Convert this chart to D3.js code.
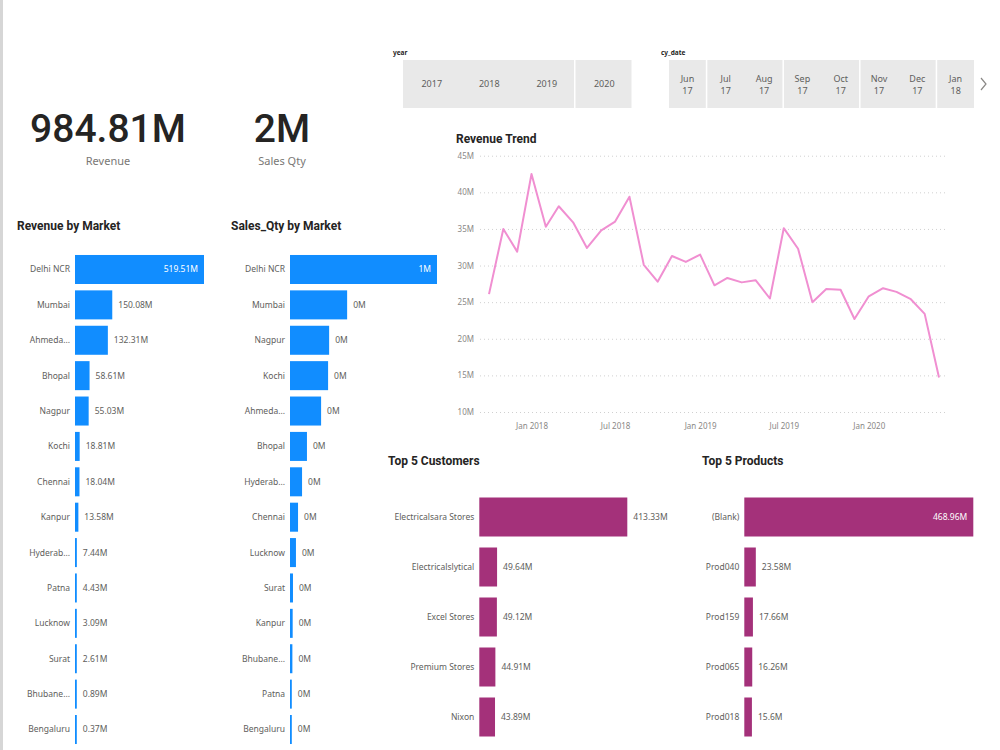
<!DOCTYPE html>
<html>
<head>
<meta charset="utf-8">
<script src="https://cdn.jsdelivr.net/npm/d3@7/dist/d3.min.js"></script>
<style>
  body { margin: 0; background: #fff; }
  text { font-family: "Noto Sans", "Open Sans", sans-serif; }
  .title { font-family: Roboto, sans-serif; font-weight: 700; font-size: 12px; fill: #252423; }
  .cat { font-size: 8.5px; fill: #605E5C; }
  .val { font-size: 8.5px; fill: #605E5C; }
  .tick text { font-size: 8px; fill: #8a8886; }
</style>
</head>
<body>
<svg id="dash" width="1000" height="750"></svg>
<script>
// ---- data ----
// market names as the visual shows them (long ones are cut by Power BI)
const markets = ["Delhi NCR", "Mumbai", "Ahmeda...", "Bhopal", "Nagpur", "Kochi", "Chennai", "Kanpur", "Hyderab...", "Patna", "Lucknow", "Surat", "Bhubane...", "Bengaluru"];
const marketRevenue = [519.51, 150.08, 132.31, 58.61, 55.03, 18.81, 18.04, 13.58, 7.44, 4.43, 3.09, 2.61, 0.89, 0.37]; // M

const qtyMarkets = ["Delhi NCR", "Mumbai", "Nagpur", "Kochi", "Ahmeda...", "Bhopal", "Hyderab...", "Chennai", "Lucknow", "Surat", "Kanpur", "Bhubane...", "Patna", "Bengaluru"];
const marketQty = [0.988, 0.384, 0.263, 0.256, 0.209, 0.114, 0.081, 0.054, 0.040, 0.020, 0.018, 0.016, 0.012, 0.008]; // M

const customers = ["Electricalsara Stores", "Electricalslytical", "Excel Stores", "Premium Stores", "Nixon"];
const customerRevenue = [413.33, 49.64, 49.12, 44.91, 43.89];

const products = ["(Blank)", "Prod040", "Prod159", "Prod065", "Prod018"];
const productRevenue = [468.96, 23.58, 17.66, 16.26, 15.6];

// monthly revenue Oct 2017 .. Jun 2020 (M)
const trendRevenue = [26.1, 35.0, 31.9, 42.5, 35.3, 38.1, 35.9, 32.4, 34.8, 36.0, 39.4, 30.1,
  27.8, 31.3, 30.5, 31.5, 27.3, 28.3, 27.7, 28.0, 25.5, 35.1, 32.3, 25.0,
  26.8, 26.7, 22.7, 25.8, 26.9, 26.4, 25.4, 23.4, 14.7];
const trendMonths = d3.timeMonth.range(new Date(2017, 9, 1), new Date(2020, 6, 1));
const trendTicks = [new Date(2018, 0, 1), new Date(2018, 6, 1), new Date(2019, 0, 1), new Date(2019, 6, 1), new Date(2020, 0, 1)];
const yTicks = [10, 15, 20, 25, 30, 35, 40, 45];

const years = ["2017", "2018", "2019", "2020"];
const yearGroups = [[0, 2], [3, 3]];
const cyDates = [["Jun", "17"], ["Jul", "17"], ["Aug", "17"], ["Sep", "17"], ["Oct", "17"], ["Nov", "17"], ["Dec", "17"], ["Jan", "18"]];
const cyGroups = [[0, 0], [1, 2], [3, 4], [5, 6], [7, 7]];

const kpis = [{ value: "984.81M", label: "Revenue" }, { value: "2M", label: "Sales Qty" }];

const svg = d3.select("#dash");

// left page edge
svg.append("rect").attr("x", 0).attr("y", 0).attr("width", 3).attr("height", 750).attr("fill", "#d6d6d6");

// ---- KPI cards ----
const kpiX = [108, 282];
kpis.forEach((k, i) => {
  svg.append("text").attr("x", kpiX[i]).attr("y", 142).attr("text-anchor", "middle")
    .style("font-family", "Roboto, sans-serif").style("font-size", "39px").style("font-weight", "500")
    .attr("fill", "#252423").text(k.value);
  svg.append("text").attr("x", kpiX[i]).attr("y", 165).attr("text-anchor", "middle")
    .style("font-size", "11px").attr("fill", "#797775").text(k.label);
});

// ---- slicers ----
function slicerLabel(x, t) {
  svg.append("text").attr("x", x).attr("y", 55).style("font-size", "6.5px").style("font-weight", "700")
    .attr("fill", "#252423").text(t);
}
slicerLabel(393, "year");
const yx = d3.scaleBand().domain(d3.range(years.length)).range([403, 633]);
yearGroups.forEach(g => {
  svg.append("rect").attr("x", yx(g[0])).attr("y", 60).attr("width", yx(g[1]) + yx.bandwidth() - yx(g[0]) - 1.5)
    .attr("height", 48).attr("fill", "#e9e9e9");
});
svg.selectAll(".yr").data(years).enter().append("text")
  .attr("x", (d, i) => yx(i) + yx.bandwidth() / 2).attr("y", 87).attr("text-anchor", "middle")
  .style("font-size", "9px").attr("fill", "#605E5C").text(d => d);

slicerLabel(661, "cy_date");
const cx = d3.scaleBand().domain(d3.range(cyDates.length)).range([669, 975.5]);
cyGroups.forEach(g => {
  svg.append("rect").attr("x", cx(g[0])).attr("y", 60).attr("width", cx(g[1]) + cx.bandwidth() - cx(g[0]) - 1.5)
    .attr("height", 48).attr("fill", "#e9e9e9");
});
cyDates.forEach((d, i) => {
  d.forEach((line, j) => {
    svg.append("text").attr("x", cx(i) + cx.bandwidth() / 2 - 0.7).attr("y", 82 + j * 12).attr("text-anchor", "middle")
      .style("font-size", "9px").attr("fill", "#605E5C").text(line);
  });
});
svg.append("path").attr("d", "M981,78 L986,84 L981,90").attr("fill", "none").attr("stroke", "#8a8886").attr("stroke-width", 1.2);

// ---- horizontal bar chart helper ----
function barChart(o) {
  const g = svg.append("g");
  g.append("text").attr("class", "title").attr("x", o.titleX).attr("y", o.titleY).text(o.title);

  const y = d3.scaleBand().domain(o.cats).range(o.yRange)
    .paddingInner(o.pad).paddingOuter(o.pad / 2);
  const x = d3.scaleLinear().domain([0, d3.max(o.vals)]).range([o.x0, o.x1]);
  const rows = o.cats.map((c, i) => ({ c, v: o.vals[i] }));

  g.selectAll(".bar").data(rows).enter().append("rect")
    .attr("x", o.x0).attr("y", d => y(d.c))
    .attr("width", d => Math.max(1.8, x(d.v) - o.x0))
    .attr("height", y.bandwidth())
    .attr("fill", o.color);

  g.selectAll(".cat").data(rows).enter().append("text").attr("class", "cat")
    .attr("x", o.x0 - 5).attr("y", d => y(d.c) + y.bandwidth() / 2).attr("dy", "0.35em")
    .attr("text-anchor", "end").text(d => d.c);

  g.selectAll(".val").data(rows).enter().append("text").attr("class", "val")
    .attr("y", d => y(d.c) + y.bandwidth() / 2).attr("dy", "0.35em")
    .text(d => o.fmt(d.v))
    .each(function (d) {
      const w = this.getComputedTextLength();
      const end = Math.max(o.x0 + 1.8, x(d.v));
      const t = d3.select(this);
      if (end + 6 + w > o.limit) {
        t.attr("x", end - 6).attr("text-anchor", "end").style("fill", "#fff");
      } else {
        t.attr("x", end + 6);
      }
    });
}

const fmtM = v => d3.format(".2f")(v).replace(/\.?0+$/, "") + "M";

barChart({ title: "Revenue by Market", titleX: 17, titleY: 230, cats: markets, vals: marketRevenue,
  yRange: [251.8, 747.2], pad: 0.18, x0: 75, x1: 204, limit: 212, color: "#118DFF", fmt: fmtM });

barChart({ title: "Sales_Qty by Market", titleX: 231, titleY: 230, cats: qtyMarkets, vals: marketQty,
  yRange: [251.8, 747.2], pad: 0.18, x0: 290, x1: 437, limit: 442, color: "#118DFF",
  fmt: v => d3.format(".0f")(v) + "M" });

barChart({ title: "Top 5 Customers", titleX: 388, titleY: 465, cats: customers, vals: customerRevenue,
  yRange: [492, 742], pad: 0.22, x0: 479.3, x1: 627.3, limit: 690, color: "#A4317A", fmt: fmtM });

barChart({ title: "Top 5 Products", titleX: 702, titleY: 465, cats: products, vals: productRevenue,
  yRange: [492, 742], pad: 0.22, x0: 744.3, x1: 973.3, limit: 980, color: "#A4317A", fmt: fmtM });

// ---- revenue trend line ----
const tg = svg.append("g");
tg.append("text").attr("class", "title").attr("x", 456).attr("y", 143).text("Revenue Trend");

const tx = d3.scaleTime().domain([trendMonths[0], trendMonths[trendMonths.length - 1]]).range([489, 939]);
const ty = d3.scaleLinear().domain([10, 45]).range([412, 155.7]);

tg.append("g").attr("transform", "translate(480,0)")
  .call(d3.axisLeft(ty).tickValues(yTicks).tickSize(-467).tickFormat(d => d + "M").tickPadding(6))
  .call(a => a.select(".domain").remove())
  .call(a => a.selectAll(".tick line").attr("stroke", "#d0d0d0").attr("stroke-dasharray", "1,3"));

tg.append("g").attr("transform", "translate(0,412)")
  .call(d3.axisBottom(tx).tickValues(trendTicks).tickFormat(d3.timeFormat("%b %Y")).tickSize(0).tickPadding(11))
  .call(a => a.select(".domain").remove());

const line = d3.line()
  .x((d, i) => tx(trendMonths[i]))
  .y(d => ty(d));

tg.append("path").datum(trendRevenue)
  .attr("fill", "none").attr("stroke", "#F08FD1").attr("stroke-width", 2)
  .attr("stroke-linejoin", "round").attr("d", line);
</script>
</body>
</html>
